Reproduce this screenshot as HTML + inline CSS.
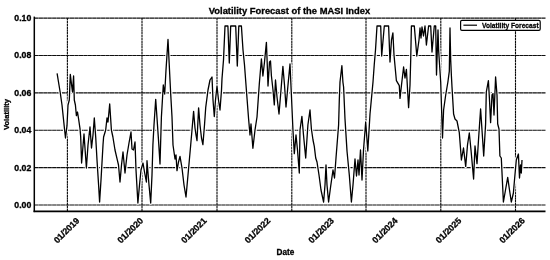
<!DOCTYPE html>
<html><head><meta charset="utf-8"><title>Volatility Forecast of the MASI Index</title>
<style>
html,body{margin:0;padding:0;background:#fff;}
body{width:550px;height:260px;overflow:hidden;}
svg{display:block;}
text{font-family:"Liberation Sans","DejaVu Sans",sans-serif;font-weight:bold;fill:#000;stroke:#000;stroke-width:0.3px;}
</style></head><body>
<svg width="550" height="260" viewBox="0 0 550 260">
<rect x="0" y="0" width="550" height="260" fill="#fff"/>

<g stroke="#101010" stroke-width="1.2" fill="none" stroke-dasharray="4.2 0.25">
<line x1="34.3" y1="18.10" x2="545.5" y2="18.10"/>
<line x1="34.3" y1="55.48" x2="545.5" y2="55.48"/>
<line x1="34.3" y1="92.86" x2="545.5" y2="92.86"/>
<line x1="34.3" y1="130.24" x2="545.5" y2="130.24"/>
<line x1="34.3" y1="167.62" x2="545.5" y2="167.62"/>
<line x1="34.3" y1="205.00" x2="545.5" y2="205.00"/>
</g>
<g stroke="#0a0a0a" stroke-width="1.1" fill="none" stroke-dasharray="2.4 0.4">
<line x1="67.4" y1="18.1" x2="67.4" y2="211.3"/>
<line x1="142" y1="18.1" x2="142" y2="211.3"/>
<line x1="217" y1="18.1" x2="217" y2="211.3"/>
<line x1="291.8" y1="18.1" x2="291.8" y2="211.3"/>
<line x1="366" y1="18.1" x2="366" y2="211.3"/>
<line x1="440.8" y1="18.1" x2="440.8" y2="211.3"/>
<line x1="515.5" y1="18.1" x2="515.5" y2="211.3"/>
</g>
<g stroke="#000" fill="none"><line x1="34.3" y1="16.6" x2="34.3" y2="212.10000000000002" stroke-width="1.5"/><line x1="33.55" y1="211.3" x2="545.5" y2="211.3" stroke-width="1.8"/></g>
<polyline points="57.1,73.4 58.5,82 60.3,93 62,105 64.3,127 65.5,138 67,125.7 68,105 69.3,100 70.3,74.4 71.7,85.9 72.5,92 73.6,75.9 74.3,100 75.4,105 76.4,115.7 77.5,112 78.6,119 80,128.6 80.7,137 81.6,163 84,134 86.4,168 88,145 90,127 91.5,148 93,135 94.3,118 95.7,137 97,160 98.6,185 99.6,202 101,180 103,145 103.6,137 105.7,130 107,118 108,122 109.7,104 111.4,130 112.9,137 115,150 117,158.6 118.5,165 120,182 121.5,165 123,152 125,173 127,155 129,143 131,132 132,149 133.5,150 135,142 136,170 137.9,203 139.5,185 141,170 143,163 144.5,172 146.4,182 147,160.7 149,185 150.7,203 152,175 152.9,145 154,125 155.7,99.3 157,118 158.5,140 160,164 161.4,117 163.3,85 164.7,94 166,70 168,39.5 169.5,70 170.7,94 172,117 173,145 175,159 176,155 177,170.7 178.5,162 180,156.4 182,168 184,185 186,197 188,175 190.7,145 192,130 193.6,111.4 195,128 196,135 197,140.6 198.6,107.9 200,125 201.5,138 202.9,144.7 204.5,125 205.7,107.7 208,90 210,80 212,77 213,100 214.3,116.5 215.5,100 217,86 218.5,100 220,110 221.5,90 222,78.6 223.5,60 225,26 227.9,26 229.3,63 230.7,26 235.7,26 237.3,66 238.8,26 241.4,26 243,50 244.5,65 246,85 248.6,119 250,135 251,124 252.9,148.3 255,130 257,117 259.3,84 261.4,59 262.9,76 264.5,62 266.4,42.3 267.2,63 268,86 269.5,62 270.5,61 271.4,75.7 273,90 274.3,104.9 275.5,80 277,97 279,114 281,90 282.9,66.4 284.5,85 286,107 288,85 290,64 291.4,95 292.9,129 294.3,153.6 296,135 297.5,150 299.3,173 300,130 301.9,116.3 303.5,135 305.7,158 307.9,125 310,110 311.4,129 313,140 314.3,146.4 315.7,158 317,162 319,175 321,190 323.6,202 325,185 326,165 327,185 328.6,202 330.7,186 333,170 334.5,178 336,158 338.6,125 339.3,100 340,82 341.9,65.7 342.9,82 343.6,87 345,119 347,151 349.3,175 351.4,202 353,185 355,159 356.5,176 358,160 359,175 360.5,150 362,180 363.5,150 365.7,122 367.8,151 370,114 373,82 374.3,64 375.5,50 377,26 380.7,26 381.7,56 384.3,26 388.6,26 390,62 391.5,40 392.9,33 394,55 396.4,80.7 399.3,85.7 400,98.4 401.5,85 403.6,67 405,78 406.4,69.3 408.6,107.7 410,85 410.7,60 411.4,26 414.3,26 416.8,56 419,40 420,28 421,38 422,27 423.5,36 425,26 426.4,45 428.6,26 430.7,26 432,52 434.3,26 435.7,26 436.5,75 438,30 438.6,50 440.7,82 442.5,138 443.6,110 445.7,95 447.9,82 449.3,71.4 450,28 450.7,60 451.4,75.7 452,87 453.6,114 455,119 457,121 459.3,132.6 461.4,160 463.5,148 465.7,166.4 467.5,145 469.3,133 471,150 473.6,179 475,146 477,163.6 478.5,140 480.6,109 482,130 483.7,156 485.6,124 486.3,92 488.4,80.7 489.5,100 490.6,122.7 492,95 493,93.6 494,115 495.6,77 497,95 497.7,124 499,129 499.9,156 501.3,158 503.4,202 505.5,190 507.7,177.4 509.5,190 511.3,202 513.4,193 514.5,180 516.3,160 518.4,154 519.5,178 520.5,165 521.3,173 522,160" fill="none" stroke="#fff" stroke-width="3.4" stroke-linejoin="round"/>
<polyline points="57.1,73.4 58.5,82 60.3,93 62,105 64.3,127 65.5,138 67,125.7 68,105 69.3,100 70.3,74.4 71.7,85.9 72.5,92 73.6,75.9 74.3,100 75.4,105 76.4,115.7 77.5,112 78.6,119 80,128.6 80.7,137 81.6,163 84,134 86.4,168 88,145 90,127 91.5,148 93,135 94.3,118 95.7,137 97,160 98.6,185 99.6,202 101,180 103,145 103.6,137 105.7,130 107,118 108,122 109.7,104 111.4,130 112.9,137 115,150 117,158.6 118.5,165 120,182 121.5,165 123,152 125,173 127,155 129,143 131,132 132,149 133.5,150 135,142 136,170 137.9,203 139.5,185 141,170 143,163 144.5,172 146.4,182 147,160.7 149,185 150.7,203 152,175 152.9,145 154,125 155.7,99.3 157,118 158.5,140 160,164 161.4,117 163.3,85 164.7,94 166,70 168,39.5 169.5,70 170.7,94 172,117 173,145 175,159 176,155 177,170.7 178.5,162 180,156.4 182,168 184,185 186,197 188,175 190.7,145 192,130 193.6,111.4 195,128 196,135 197,140.6 198.6,107.9 200,125 201.5,138 202.9,144.7 204.5,125 205.7,107.7 208,90 210,80 212,77 213,100 214.3,116.5 215.5,100 217,86 218.5,100 220,110 221.5,90 222,78.6 223.5,60 225,26 227.9,26 229.3,63 230.7,26 235.7,26 237.3,66 238.8,26 241.4,26 243,50 244.5,65 246,85 248.6,119 250,135 251,124 252.9,148.3 255,130 257,117 259.3,84 261.4,59 262.9,76 264.5,62 266.4,42.3 267.2,63 268,86 269.5,62 270.5,61 271.4,75.7 273,90 274.3,104.9 275.5,80 277,97 279,114 281,90 282.9,66.4 284.5,85 286,107 288,85 290,64 291.4,95 292.9,129 294.3,153.6 296,135 297.5,150 299.3,173 300,130 301.9,116.3 303.5,135 305.7,158 307.9,125 310,110 311.4,129 313,140 314.3,146.4 315.7,158 317,162 319,175 321,190 323.6,202 325,185 326,165 327,185 328.6,202 330.7,186 333,170 334.5,178 336,158 338.6,125 339.3,100 340,82 341.9,65.7 342.9,82 343.6,87 345,119 347,151 349.3,175 351.4,202 353,185 355,159 356.5,176 358,160 359,175 360.5,150 362,180 363.5,150 365.7,122 367.8,151 370,114 373,82 374.3,64 375.5,50 377,26 380.7,26 381.7,56 384.3,26 388.6,26 390,62 391.5,40 392.9,33 394,55 396.4,80.7 399.3,85.7 400,98.4 401.5,85 403.6,67 405,78 406.4,69.3 408.6,107.7 410,85 410.7,60 411.4,26 414.3,26 416.8,56 419,40 420,28 421,38 422,27 423.5,36 425,26 426.4,45 428.6,26 430.7,26 432,52 434.3,26 435.7,26 436.5,75 438,30 438.6,50 440.7,82 442.5,138 443.6,110 445.7,95 447.9,82 449.3,71.4 450,28 450.7,60 451.4,75.7 452,87 453.6,114 455,119 457,121 459.3,132.6 461.4,160 463.5,148 465.7,166.4 467.5,145 469.3,133 471,150 473.6,179 475,146 477,163.6 478.5,140 480.6,109 482,130 483.7,156 485.6,124 486.3,92 488.4,80.7 489.5,100 490.6,122.7 492,95 493,93.6 494,115 495.6,77 497,95 497.7,124 499,129 499.9,156 501.3,158 503.4,202 505.5,190 507.7,177.4 509.5,190 511.3,202 513.4,193 514.5,180 516.3,160 518.4,154 519.5,178 520.5,165 521.3,173 522,160" fill="none" stroke="#000" stroke-width="1.3" stroke-linejoin="round"/>
<rect x="460.6" y="20.4" width="79.6" height="10" rx="1.3" ry="1.3" fill="#fff" stroke="#000" stroke-width="1.2"/>
<line x1="463.4" y1="25.2" x2="477" y2="25.2" stroke="#000" stroke-width="1.2"/>
<text x="482" y="28" font-size="8" textLength="56.6" lengthAdjust="spacingAndGlyphs">Volatility Forecast</text>
<text x="289.5" y="14.1" font-size="9.4" text-anchor="middle" textLength="161.5" lengthAdjust="spacingAndGlyphs">Volatility Forecast of the MASI Index</text>
<text x="31.3" y="21.05" font-size="8.2" text-anchor="end" textLength="17" lengthAdjust="spacingAndGlyphs">0.10</text>
<text x="31.3" y="58.43" font-size="8.2" text-anchor="end" textLength="17" lengthAdjust="spacingAndGlyphs">0.08</text>
<text x="31.3" y="95.81" font-size="8.2" text-anchor="end" textLength="17" lengthAdjust="spacingAndGlyphs">0.06</text>
<text x="31.3" y="133.19" font-size="8.2" text-anchor="end" textLength="17" lengthAdjust="spacingAndGlyphs">0.04</text>
<text x="31.3" y="170.57" font-size="8.2" text-anchor="end" textLength="17" lengthAdjust="spacingAndGlyphs">0.02</text>
<text x="31.3" y="207.95" font-size="8.2" text-anchor="end" textLength="17" lengthAdjust="spacingAndGlyphs">0.00</text>
<text transform="translate(9.4,114.5) rotate(-90)" font-size="7.6" text-anchor="middle" textLength="31" lengthAdjust="spacingAndGlyphs">Volatility</text>
<text transform="translate(66.5,230.3) rotate(-45)" font-size="8.8" text-anchor="middle" y="3.1" textLength="32" lengthAdjust="spacingAndGlyphs">01/2019</text>
<text transform="translate(130.2,230.3) rotate(-45)" font-size="8.8" text-anchor="middle" y="3.1" textLength="32" lengthAdjust="spacingAndGlyphs">01/2020</text>
<text transform="translate(193.8,230.3) rotate(-45)" font-size="8.8" text-anchor="middle" y="3.1" textLength="32" lengthAdjust="spacingAndGlyphs">01/2021</text>
<text transform="translate(257.4,230.3) rotate(-45)" font-size="8.8" text-anchor="middle" y="3.1" textLength="32" lengthAdjust="spacingAndGlyphs">01/2022</text>
<text transform="translate(321.1,230.3) rotate(-45)" font-size="8.8" text-anchor="middle" y="3.1" textLength="32" lengthAdjust="spacingAndGlyphs">01/2023</text>
<text transform="translate(384.8,230.3) rotate(-45)" font-size="8.8" text-anchor="middle" y="3.1" textLength="32" lengthAdjust="spacingAndGlyphs">01/2024</text>
<text transform="translate(448.4,230.3) rotate(-45)" font-size="8.8" text-anchor="middle" y="3.1" textLength="32" lengthAdjust="spacingAndGlyphs">01/2025</text>
<text transform="translate(512.0,230.3) rotate(-45)" font-size="8.8" text-anchor="middle" y="3.1" textLength="32" lengthAdjust="spacingAndGlyphs">01/2026</text>
<text x="285.5" y="255" font-size="8.8" text-anchor="middle" textLength="17.8" lengthAdjust="spacingAndGlyphs">Date</text>
</svg></body></html>
